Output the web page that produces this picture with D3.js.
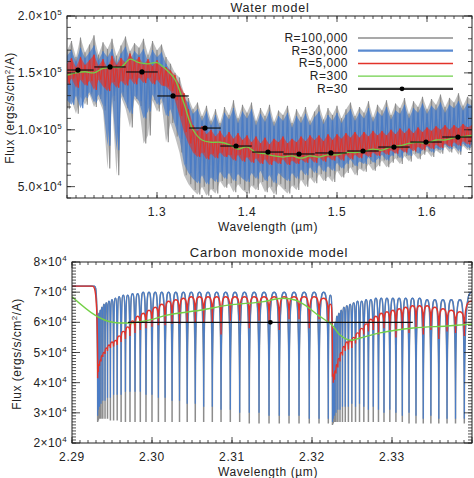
<!DOCTYPE html>
<html>
<head>
<meta charset="utf-8">
<script src="https://cdn.jsdelivr.net/npm/d3@7"></script>
<style>
  body { margin: 0; background: #fff; }
  svg text { font-family: "Liberation Sans", Arial, sans-serif; fill: #222; }
</style>
</head>
<body>
<script>

// ---------------- Water model (flux in 1e3 ergs/s/cm2/A) ----------------
// spectrum upper / lower excursions read on a 0.005 um grid starting at 1.200 um
const waterGrayHi = [170,178,164,181,168,175,183,166,177,171, 180,165,174,182,169,176,172,180,166,178,
  170,175,164,158,150,146,132,128,118,124, 112,121,108,118,106,120,113,126,110,122,
  115,124,108,119,112,122,107,117,113,121, 106,118,111,120,108,116,122,109,119,113,
  121,110,118,124,112,120,115,125,111,122, 117,126,113,123,119,128,114,125,120,129,
  118,127,122,131,120,128,124,132,121,129, 126];
const waterGrayLo = [118,126,114,129,122,131,120,127,117,66, 125,60,129,119,102,127,121,88,95,126,
  116,124,89,106,94,80,60,52,47,43, 50,42,48,44,55,49,53,45,52,47,
  44,51,47,54,45,50,43,52,48,44, 51,47,56,50,58,53,61,55,59,54,
  64,58,62,67,60,66,63,70,64,68, 73,67,71,75,70,77,72,79,74,78,
  81,76,82,79,85,80,84,78,86,82, 85];
const waterBlueHi = [165,170,160,172,163,168,174,161,169,164, 171,158,167,173,162,169,165,171,160,170,
  164,168,158,152,145,140,128,124,114,118, 108,116,104,113,102,115,109,119,106,116,
  110,118,104,114,107,116,103,112,108,115, 102,112,106,114,104,111,116,105,113,108,
  115,106,113,118,108,115,110,119,107,116, 112,120,109,117,114,122,110,119,115,123,
  114,121,117,124,115,122,119,125,117,123, 121];
const waterBlueLo = [126,122,130,119,128,133,124,131,121,86, 130,82,133,124,114,130,125,110,116,131,
  122,128,112,118,104,92,70,62,57,53, 60,52,58,54,63,57,62,55,61,57,
  54,62,57,64,55,60,53,62,58,55, 62,57,65,60,67,62,69,63,68,64,
  71,66,70,74,68,72,70,76,71,74, 78,73,77,80,75,81,77,83,79,82,
  85,80,84,82,87,83,86,81,88,84, 87];
const waterRedHi = [158,163,155,164,157,161,166,156,162,154, 165,157,163,159,167,160,164,157,162,156,
  161,155,155,152,148,140,132,118,104,99, 103,96,100,94,99,93,98,92,97,91,
  95,89,94,88,93,87,92,89,94,88, 92,89,94,90,95,91,95,90,96,91,
  96,92,97,93,98,93,98,94,99,95, 99,95,100,96,101,97,101,97,102,98,
  102,99,103,100,104,100,104,101,105,102, 104];
const waterRedLo = [140,145,137,144,139,143,135,144,138,134, 142,137,143,139,145,140,146,141,146,140,
  144,139,138,134,126,112,98,88,80,76, 80,74,79,75,80,76,78,73,78,72,
  76,71,75,70,74,69,73,70,74,69, 73,70,74,71,75,71,76,72,76,73,
  77,73,78,74,78,75,79,76,80,77, 81,78,82,79,83,80,84,81,85,82,
  86,83,87,84,88,85,89,86,90,87, 90];
// R=300, every 0.01 um from 1.20
const waterGreen = [148,150,151,150,154,155,155,162,159,158, 159,153,144,123,100,91,89,89,87,83,
  85,80,79,77,76,77,75,77,76,78, 78,80,80,81,83,82,85,86,88,89,
  88,91,91,93,94,95];
// R=30 binned points
const waterR30Lam = [1.2122,1.2478,1.2833,1.3178,1.3533,1.3878,1.4233,1.4578,1.4933,1.5289,1.5633,1.5989,1.6344];
const waterR30Flux = [152.5,155.2,150.8,129.7,101.5,85.7,80.4,78.7,79.6,81.3,84.8,89.2,93.6];
const waterR30Half = 0.0175;

// ---------------- Carbon monoxide model (flux in 1e3) ----------------
const coContinuum = 72;
const coLines = [
  2.29321,2.29330,2.29344,2.29363,2.29385,2.29413,2.29444,2.29480,2.29520,2.29565,
  2.29614,2.29668,2.29725,2.29788,2.29854,2.29925,2.30000,2.30080,2.30164,2.30251,
  2.30344,2.30440,2.30541,2.30646,2.30754,2.30863,2.30979,2.31096,2.31216,2.31338,
  2.31463,2.31591,2.31713,2.31838,2.31966,2.32088,2.32204,
  2.32256,2.32266,2.32281,2.32300,2.32323,2.32350,2.32381,2.32416,2.32455,2.32498,
  2.32544,2.32594,2.32648,2.32705,2.32766,2.32831,2.32900,2.32973,2.33049,2.33129,
  2.33213,2.33300,2.33391,2.33486,2.33585,2.33688,2.33794,2.33904];
const coBlueCore = [
  29,31,32,33,34,34,35,35,36,36, 36,37,37,37,37,36,36,35,35,34,
  34,33,33,32,32,31,31,30,30,30, 29,29,29,29,28,28,28,
  27,28,29,30,31,31,32,32,32,33, 32,33,32,31,32,31,30,31,30,29,
  30,29,28,29,28,28,28,28];
const coGrayCore = [
  27,27.5,28,28,28,28,28,27.5,27.5,27.5, 27,27,27,27,27,27,27,27,27,27,
  27,27,27,27,27,27,27,27,26.5,26.5, 26.5,26.5,26.5,26.5,26.5,26.5,26.5,
  26,26.5,27,27,27,27,27,27,27,27, 27,27,27,27,27,27,27,27,27,27,
  26.5,26.5,26.5,26.5,26.5,26.5,26.5,26.5];
const coBluePeak = [
  62,63,64,65,66,66.5,67,67.5,68,68.5, 69,69,69.5,69.5,70,70,70,70,70,70,
  70,70,70,70,70,70,70,70,70,70, 70,70,70,70,70,70,69,
  56,58,60,62,63,64,65,65.5,66,66.5, 67,67,67.5,67.5,68,68,68,68,68,68,
  68,68,67.5,67.5,67.5,67.5,67.5,70];
const coRedCore = [
  41.5,43.5,45.5,47,48.5,49.5,50.5,51.5,52,52.5, 53.5,54.5,55.5,56.5,57.5,58,58.5,59,59,59.5,
  59.5,60,60,60,60,56,60.5,60.5,58,60.5, 60.5,57.5,61,61,58,61,60,
  42,40,41,43,45,47,49,50.5,51,51.5, 53,55,56,57,57.5,56,58,57.5,55,57.5,
  56.5,58,56,57.5,54.5,57,56.5,55.5];
const coRedPeak = [
  44,46,47.5,49,50,51.5,52.5,53.5,54,55.5, 57,58.5,60.5,62,63,64,65,66,67,67.5,
  68,68.5,68.5,68.5,68.5,68.5,68.5,68.5,68.5,68.5, 68.5,68.5,68.5,68.5,68.5,68,66,
  43,42,44,46,48,50,52,53.5,54,55, 56.5,58,59.5,61,62,63,63.5,64,64.5,65,
  65.5,65.5,65.5,65,64.5,64,63.5,67];
const coGreenLam = [2.29,2.29288,2.29475,2.29725,2.29975,2.30188,2.306,2.3095,2.31375,2.31625,
  2.31788,2.31913,2.32075,2.3225,2.3235,2.32475,2.326,2.3285,2.33263,2.33688,2.34];
const coGreenFlux = [68.5,62.4,60.2,59.8,60.8,62.4,64.0,65.7,66.8,68.0,
  67.4,65.7,62.4,59.1,55.8,54.1,54.8,56.5,58.1,58.8,59.4];
const coR30Lam = [2.3148];
const coR30Flux = [60];
const coR30Half = 0.0178;

// legend
const legendLabels = ['R=100,000', 'R=30,000', 'R=5,000', 'R=300', 'R=30'];
const legendColors = ['#8c8c8c', '#5a8ad0', '#e2332a', '#6fd04a', '#333'];
const legendWidths = [1.6, 2.2, 1.5, 1.2, 2.2];

const colGray = '#8c8c8c', colBlue = '#4a7cc6', colRed = '#e2332a', colGreen = '#73d046';

const W = 474, H = 478;
const svg = d3.select('body').append('svg').attr('width', W).attr('height', H);

const xW = d3.scaleLinear().domain([1.2, 1.65]).range([67, 472]);
const yW = d3.scaleLinear().domain([4e4, 2e5]).range([198, 16]);
const xC = d3.scaleLinear().domain([2.29, 2.34]).range([72, 472]);
const yC = d3.scaleLinear().domain([2e4, 8e4]).range([443, 262]);

function clip(id, x, y) {
    svg.append('clipPath').attr('id', id).append('rect')
        .attr('x', x.range()[0]).attr('y', y.range()[1])
        .attr('width', x.range()[1] - x.range()[0])
        .attr('height', y.range()[0] - y.range()[1]);
}
clip('cw', xW, yW);
clip('cc', xC, yC);

// ---------- water panel ----------
const gW = svg.append('g').attr('clip-path', 'url(#cw)');
const waterStep = 0.005;
const waterGrid = d3.range(waterGrayHi.length).map(i => 1.2 + waterStep * i);

function zigzag(hi, lo) {
    const pts = [];
    waterGrid.forEach((lam, i) => {
        pts.push([lam, hi[i] * 1e3]);
        pts.push([lam + waterStep / 2, lo[i] * 1e3]);
    });
    return pts;
}
const lineW = d3.line().x(d => xW(d[0])).y(d => yW(d[1]));
const bandW = d3.area().x((d, i) => xW(waterGrid[i]))
    .y0(d => yW(d[1] * 1e3)).y1(d => yW(d[0] * 1e3));

function spectrum(hi, lo, col, fillOpacity, strokeW) {
    gW.append('path').attr('d', bandW(d3.zip(hi, lo)))
        .attr('fill', col).attr('fill-opacity', fillOpacity).attr('stroke', 'none');
    gW.append('path').attr('d', lineW(zigzag(hi, lo)))
        .attr('fill', 'none').attr('stroke', col).attr('stroke-width', strokeW);
}
spectrum(waterGrayHi, waterGrayLo, colGray, 0.55, 1.1);
spectrum(waterBlueHi, waterBlueLo, colBlue, 0.7, 1.1);
spectrum(waterRedHi, waterRedLo, colRed, 0.65, 1);

const greenPts = waterGreen.map((f, i) => [1.2 + 0.01 * i, f * 1e3]);
gW.append('path').attr('d', lineW.curve(d3.curveCatmullRom)(greenPts))
    .attr('fill', 'none').attr('stroke', colGreen).attr('stroke-width', 1.3);
lineW.curve(d3.curveLinear);

waterR30Lam.forEach((lam, i) => {
    gW.append('line')
        .attr('x1', xW(lam - waterR30Half)).attr('x2', xW(lam + waterR30Half))
        .attr('y1', yW(waterR30Flux[i] * 1e3)).attr('y2', yW(waterR30Flux[i] * 1e3))
        .attr('stroke', '#111').attr('stroke-width', 1.2);
});
gW.selectAll('circle').data(waterR30Lam).enter().append('circle')
    .attr('cx', d => xW(d)).attr('cy', (d, i) => yW(waterR30Flux[i] * 1e3))
    .attr('r', 2.6).attr('fill', '#000');

// ---------- CO panel ----------
const gC = svg.append('g').attr('clip-path', 'url(#cc)');

function combPath(cores, peaks, flatEnd) {
    const nodes = [{ l: 2.29, f: coContinuum, peak: true }, { l: flatEnd, f: coContinuum, peak: true }];
    coLines.forEach((c, k) => {
        nodes.push({ l: c, f: cores[k], peak: false });
        const next = k < coLines.length - 1 ? (c + coLines[k + 1]) / 2 : 2.34;
        nodes.push({ l: next, f: peaks[k], peak: true });
    });
    const p = d3.path();
    p.moveTo(xC(nodes[0].l), yC(nodes[0].f * 1e3));
    for (let i = 1; i < nodes.length; i++) {
        const a = nodes[i - 1], b = nodes[i];
        const ax = xC(a.l), ay = yC(a.f * 1e3), bx = xC(b.l), by = yC(b.f * 1e3);
        if (a.peak && b.peak) p.lineTo(bx, by);
        else if (a.peak) p.bezierCurveTo(ax + 0.5 * (bx - ax), ay, bx, ay, bx, by);
        else p.bezierCurveTo(ax, by, bx - 0.5 * (bx - ax), by, bx, by);
    }
    return p.toString();
}

gC.append('path').attr('d', combPath(coGrayCore, coBluePeak, 2.2928))
    .attr('fill', 'none').attr('stroke', colGray).attr('stroke-width', 1.5);
gC.append('path').attr('d', combPath(coBlueCore, coBluePeak, 2.2928))
    .attr('fill', 'none').attr('stroke', colBlue).attr('stroke-width', 1.2);
gC.append('path').attr('d', combPath(coRedCore, coRedPeak, 2.2925))
    .attr('fill', 'none').attr('stroke', colRed).attr('stroke-width', 1.4);

const lineC = d3.line().x(d => xC(d[0])).y(d => yC(d[1] * 1e3)).curve(d3.curveCatmullRom);
gC.append('path').attr('d', lineC(coGreenLam.map((l, i) => [l, coGreenFlux[i]])))
    .attr('fill', 'none').attr('stroke', colGreen).attr('stroke-width', 1.4);

coR30Lam.forEach((lam, i) => {
    gC.append('line')
        .attr('x1', xC(lam - coR30Half)).attr('x2', xC(lam + coR30Half))
        .attr('y1', yC(coR30Flux[i] * 1e3)).attr('y2', yC(coR30Flux[i] * 1e3))
        .attr('stroke', '#111').attr('stroke-width', 1.3);
    gC.append('circle').attr('cx', xC(lam)).attr('cy', yC(coR30Flux[i] * 1e3))
        .attr('r', 2.4).attr('fill', '#000');
});

// ---------- axes (IDL style: box with inward ticks on all sides) ----------
function frame(x, y, xMajor, xMinor, yMajor, yMinor, xLabels, yLabel) {
    const g = svg.append('g');
    const [x0, x1] = x.range(), [y0, y1] = y.range();
    const tick = (xa, ya, xb, yb) => g.append('line')
        .attr('x1', xa).attr('y1', ya).attr('x2', xb).attr('y2', yb)
        .attr('stroke', '#222').attr('stroke-width', 0.8);
    xMinor.forEach(v => { tick(x(v), y0, x(v), y0 - 3); tick(x(v), y1, x(v), y1 + 3); });
    xMajor.forEach(v => { tick(x(v), y0, x(v), y0 - 6); tick(x(v), y1, x(v), y1 + 6); });
    yMinor.forEach(v => { tick(x0, y(v), x0 + 4, y(v)); tick(x1, y(v), x1 - 4, y(v)); });
    yMajor.forEach(v => { tick(x0, y(v), x0 + 8, y(v)); tick(x1, y(v), x1 - 8, y(v)); });
    g.append('rect').attr('x', x0).attr('y', y1).attr('width', x1 - x0).attr('height', y0 - y1)
        .attr('fill', 'none').attr('stroke', '#222').attr('stroke-width', 1);

    xLabels.forEach(v => {
        g.append('text').attr('x', x(v)).attr('y', y0 + 18).attr('text-anchor', 'middle')
            .attr('font-size', 12).attr('letter-spacing', 0.6).text(yLabel.xfmt(v));
    });
    yMajor.forEach(v => {
        const e = Math.floor(Math.log10(v) + 1e-9);
        const m = v / Math.pow(10, e);
        const t = g.append('text').attr('x', x0 - 5).attr('y', y(v) + 4)
            .attr('text-anchor', 'end').attr('font-size', 12).attr('letter-spacing', 0.4);
        t.append('tspan').text(m.toFixed(yLabel.digits) + '×10');
        t.append('tspan').attr('dy', -5).attr('font-size', 8).text(e);
    });
    return g;
}

const range = (a, b, s) => d3.range(Math.round((b - a) / s) + 1).map(i => a + s * i);

frame(xW, yW, [1.3, 1.4, 1.5, 1.6], range(1.2, 1.65, 0.01),
    [5e4, 1e5, 1.5e5, 2e5], range(4e4, 2e5, 1e4),
    [1.3, 1.4, 1.5, 1.6], { digits: 1, xfmt: v => v.toFixed(1) });
frame(xC, yC, range(2.29, 2.34, 0.01), range(2.29, 2.34, 0.001),
    range(2e4, 8e4, 1e4), range(2e4, 8e4, 1e3),
    range(2.29, 2.33, 0.01), { digits: 0, xfmt: v => v.toFixed(2) });

// titles
function title(txt, x, y, size) {
    svg.append('text').attr('x', x).attr('y', y).attr('text-anchor', 'middle')
        .attr('font-size', size).attr('letter-spacing', 0.8).text(txt);
}
title('Water model', 270, 12, 12.5);
title('Carbon monoxide model', 269, 257, 13);

function xTitle(y) {
    svg.append('text').attr('x', 268).attr('y', y).attr('text-anchor', 'middle')
        .attr('font-size', 12).attr('letter-spacing', 0.6).text('Wavelength (µm)');
}
xTitle(231);
xTitle(476);

function yTitle(x, y) {
    const t = svg.append('text').attr('transform', `translate(${x},${y}) rotate(-90)`)
        .attr('text-anchor', 'middle').attr('font-size', 12).attr('letter-spacing', 0.5);
    t.append('tspan').text('Flux (ergs/s/cm');
    t.append('tspan').attr('dy', -4).attr('font-size', 8).text('2');
    t.append('tspan').attr('dy', 4).text('/A)');
}
yTitle(14, 108);
yTitle(21, 354);

// legend
const lg = svg.append('g');
legendLabels.forEach((lab, i) => {
    const y = 38 + i * 12.7;
    lg.append('text').attr('x', 348).attr('y', y + 4).attr('text-anchor', 'end')
        .attr('font-size', 12).attr('letter-spacing', 0.5).text(lab);
    lg.append('line').attr('x1', 358).attr('x2', 453).attr('y1', y).attr('y2', y)
        .attr('stroke', legendColors[i]).attr('stroke-width', legendWidths[i]);
    if (i === 4) lg.append('circle').attr('cx', 402).attr('cy', y).attr('r', 2.4).attr('fill', '#000');
});

</script>
</body>
</html>
